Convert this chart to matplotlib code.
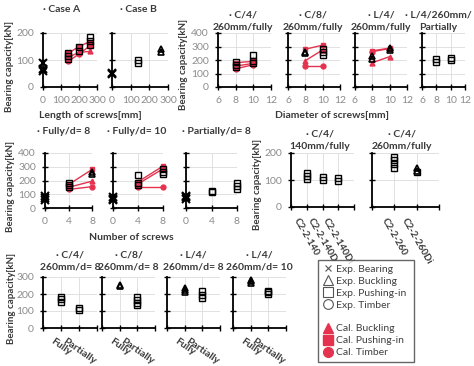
import matplotlib
matplotlib.use('Agg')
import matplotlib.pyplot as plt
from matplotlib.lines import Line2D

plt.rcParams['font.family'] = ['Liberation Sans Narrow', 'Lato', 'DejaVu Sans']

W, H = 474, 366
RED = '#e5334f'
GRAY = '#8c8c8c'
DARK = '#3a3a3a'

# ---- row 1: length of screws ----
caseA_bearing_x = [0, 0, 0]
caseA_bearing_y = [60, 68, 90]
caseA_timber_x = [0]
caseA_timber_y = [75]
caseA_push_x = [140, 140, 140, 200, 200, 260, 260, 260]
caseA_push_y = [105, 115, 125, 135, 148, 155, 170, 185]
caseA_cal_x = [140, 200, 260]
caseA_cal_buck = [110, 128, 132]
caseA_cal_push = [125, 150, 168]
caseA_cal_timber = [95, 122, 152]

caseB_bearing_x = [0, 0]
caseB_bearing_y = [48, 52]
caseB_push_x = [140, 140]
caseB_push_y = [90, 100]
caseB_buck_x = [260, 260]
caseB_buck_y = [130, 140]

# ---- row 1: diameter of screws ----
dia_cal_x = [8, 10]
c4_push_x = [8, 8, 8, 10, 10, 10]
c4_push_y = [145, 165, 185, 175, 190, 240]
c4_cal_buck = [155, 175]
c4_cal_push = [180, 190]
c4_cal_timber = [135, 165]

c8_buck_x = [8, 8]
c8_buck_y = [250, 260]
c8_push_x = [10, 10, 10]
c8_push_y = [240, 260, 280]
c8_cal_buck = [195, 275]
c8_cal_push = [280, 310]
c8_cal_timber = [153, 153]

l4_buck_x = [8, 8, 10, 10]
l4_buck_y = [210, 230, 275, 290]
l4_cal_buck = [180, 225]
l4_cal_push = [268, 288]
l4_cal_timber = [262, 285]

l4p_push_x = [8, 8, 10, 10]
l4p_push_y = [185, 210, 200, 215]

# ---- row 2: number of screws ----
num_cal_x = [4, 8]
f8_bearing_x = [0, 0, 0]
f8_bearing_y = [60, 72, 85]
f8_push_x = [4, 4, 4]
f8_push_y = [150, 165, 180]
f8_buck_x = [8, 8]
f8_buck_y = [248, 260]
f8_cal_buck = [150, 195]
f8_cal_push = [170, 280]
f8_cal_timber = [135, 155]

f10_bearing_x = [0, 0, 0]
f10_bearing_y = [55, 68, 80]
f10_push_x = [4, 4, 4, 8, 8, 8]
f10_push_y = [170, 185, 240, 245, 262, 280]
f10_cal_buck = [175, 285]
f10_cal_push = [190, 305]
f10_cal_timber = [155, 155]

p8_bearing_x = [0, 0, 0]
p8_bearing_y = [65, 78, 90]
p8_push_x = [4, 4, 8, 8, 8]
p8_push_y = [115, 125, 140, 160, 180]

# ---- row 2: specimens ----
c140_labels = ['C2-2-140', 'C2-2-140D', 'C2-2-140Di']
c140_push_x = [1, 1, 1, 2, 2, 3, 3]
c140_push_y = [105, 115, 125, 100, 112, 95, 107]

c260_labels = ['C2-2-260', 'C2-2-260Di']
c260_push_x = [1, 1, 1, 1, 2]
c260_push_y = [145, 160, 175, 187, 130]
c260_buck_x = [2, 2]
c260_buck_y = [135, 145]

# ---- row 3: fully vs partially ----
fp_labels = ['Fully', 'Partially']
r3a_push_x = [1, 1, 1, 2, 2]
r3a_push_y = [155, 170, 185, 105, 115]
r3b_buck_x = [1, 1]
r3b_buck_y = [245, 255]
r3b_push_x = [2, 2, 2, 2]
r3b_push_y = [135, 150, 165, 180]
r3c_buck_x = [1, 1, 1]
r3c_buck_y = [210, 225, 235]
r3c_push_x = [2, 2, 2]
r3c_push_y = [175, 195, 215]
r3d_buck_x = [1, 1, 1]
r3d_buck_y = [265, 275, 285]
r3d_push_x = [2, 2, 2]
r3d_push_y = [200, 210, 220]


fig = plt.figure(figsize=(W / 100, H / 100), dpi=100)


def px(l, t, r, b):
    return [l / W, 1 - b / H, (r - l) / W, (b - t) / H]


def ftext(x, y, s, **kw):
    fig.text(x / W, 1 - y / H, s, **kw)


def panel(l, t, r, b, xlim, xticks, ylim, yticks, xlabels=True, ylabels=False):
    ax = fig.add_axes(px(l, t, r, b))
    ax.set_xlim(xlim)
    ax.set_ylim(ylim)
    ax.set_xticks(xticks)
    ax.set_yticks(yticks)
    for s in ['top', 'right']:
        ax.spines[s].set_visible(False)
    for s in ['left', 'bottom']:
        ax.spines[s].set_linewidth(1.3)
        ax.spines[s].set_color('black')
    ax.grid(True, color='#dcdcdc', linewidth=0.6)
    ax.set_axisbelow(True)
    ax.tick_params(direction='inout', length=5, width=1, color='black',
                   labelcolor=GRAY, labelsize=7.5, pad=4)
    if not xlabels:
        ax.set_xticklabels([])
    if not ylabels:
        ax.set_yticklabels([])
    return ax


def exp(ax, x, y, kind):
    if kind == 'bearing':
        ax.plot(x, y, 'x', color='black', ms=5.5, mew=1.5, ls='none', clip_on=False, zorder=5)
    elif kind == 'buck':
        ax.plot(x, y, '^', mfc='none', mec='black', ms=5, mew=1.2, ls='none', clip_on=False, zorder=5)
    elif kind == 'push':
        ax.plot(x, y, 's', mfc='none', mec='black', ms=4.5, mew=1.0, ls='none', clip_on=False, zorder=5)
    elif kind == 'timber':
        ax.plot(x, y, 'o', mfc='none', mec='black', ms=4.5, mew=1.0, ls='none', clip_on=False, zorder=5)


def cal(ax, x, buck, push, timber):
    ax.plot(x, buck, '-^', color=RED, ms=3.5, lw=1, clip_on=False, zorder=4)
    ax.plot(x, push, '-s', color=RED, ms=3.5, lw=1, clip_on=False, zorder=4)
    ax.plot(x, timber, '-o', color=RED, ms=3.5, lw=1, clip_on=False, zorder=4)


def ylab(x, y):
    ftext(x, y, 'Bearing capacity[kN]', rotation=90, ha='center', va='center',
          fontsize=7, fontweight='bold', color=DARK)


def title(x, y, s, ha='center'):
    ftext(x, y, s, ha=ha, va='center', fontsize=7.5, fontweight='bold', color=DARK,
          linespacing=1.5, multialignment='center')


# ===== row 1 =====
ax = panel(43, 33, 97, 87, (0, 300), [0, 100, 200, 300], (0, 200), [0, 100, 200], ylabels=True)
cal(ax, caseA_cal_x, caseA_cal_buck, caseA_cal_push, caseA_cal_timber)
exp(ax, caseA_push_x, caseA_push_y, 'push')
exp(ax, caseA_timber_x, caseA_timber_y, 'timber')
exp(ax, caseA_bearing_x, caseA_bearing_y, 'bearing')
title(62, 10, '· Case A')

ax = panel(112, 33, 168, 87, (0, 300), [0, 100, 200, 300], (0, 200), [0, 100, 200])
exp(ax, caseB_push_x, caseB_push_y, 'push')
exp(ax, caseB_buck_x, caseB_buck_y, 'buck')
exp(ax, caseB_bearing_x, caseB_bearing_y, 'bearing')
title(138, 10, '· Case B')

ax = panel(218, 33, 271, 87, (6, 12), [6, 8, 10, 12], (0, 400), [0, 100, 200, 300, 400], ylabels=True)
cal(ax, dia_cal_x, c4_cal_buck, c4_cal_push, c4_cal_timber)
exp(ax, c4_push_x, c4_push_y, 'push')
title(243, 21, '· C/4/\n260mm/fully')

ax = panel(288, 33, 340, 87, (6, 12), [6, 8, 10, 12], (0, 400), [0, 100, 200, 300, 400])
cal(ax, dia_cal_x, c8_cal_buck, c8_cal_push, c8_cal_timber)
exp(ax, c8_push_x, c8_push_y, 'push')
exp(ax, c8_buck_x, c8_buck_y, 'buck')
title(313, 21, '· C/8/\n260mm/fully')

ax = panel(355, 33, 407, 87, (6, 12), [6, 8, 10, 12], (0, 400), [0, 100, 200, 300, 400])
cal(ax, dia_cal_x, l4_cal_buck, l4_cal_push, l4_cal_timber)
exp(ax, l4_buck_x, l4_buck_y, 'buck')
title(381, 21, '· L/4/\n260mm/fully')

ax = panel(422, 33, 465, 87, (6, 12), [6, 8, 10, 12], (0, 400), [0, 100, 200, 300, 400])
exp(ax, l4p_push_x, l4p_push_y, 'push')
title(472, 21, '· L/4/260mm/\nPartially', ha='right')

ylab(10, 66)
ylab(184, 64)
ftext(90, 116, 'Length of screws[mm]', ha='center', va='center', fontsize=7.5,
      fontweight='bold', color=DARK)
ftext(332, 116, 'Diameter of screws[mm]', ha='center', va='center', fontsize=7.5,
      fontweight='bold', color=DARK)

# ===== row 2 =====
ax = panel(45, 153, 92, 208, (0, 8), [0, 4, 8], (0, 400), [0, 100, 200, 300, 400], ylabels=True)
cal(ax, num_cal_x, f8_cal_buck, f8_cal_push, f8_cal_timber)
exp(ax, f8_push_x, f8_push_y, 'push')
exp(ax, f8_buck_x, f8_buck_y, 'buck')
exp(ax, f8_bearing_x, f8_bearing_y, 'bearing')
title(64, 132, '· Fully/d= 8')

ax = panel(113, 153, 163, 208, (0, 8), [0, 4, 8], (0, 400), [0, 100, 200, 300, 400])
cal(ax, num_cal_x, f10_cal_buck, f10_cal_push, f10_cal_timber)
exp(ax, f10_push_x, f10_push_y, 'push')
exp(ax, f10_bearing_x, f10_bearing_y, 'bearing')
title(137, 132, '· Fully/d= 10')

ax = panel(186, 153, 237, 208, (0, 8), [0, 4, 8], (0, 400), [0, 100, 200, 300, 400])
exp(ax, p8_push_x, p8_push_y, 'push')
exp(ax, p8_bearing_x, p8_bearing_y, 'bearing')
title(216, 132, '· Partially/d= 8')

ax = panel(291, 153, 354, 207, (0, 4), [0, 1, 2, 3, 4], (0, 200), [0, 100, 200], ylabels=True)
ax.set_xticklabels([''] + c140_labels + [''], rotation=-60, ha='center', va='top',
                   color=DARK, fontweight='bold', fontsize=7)
exp(ax, c140_push_x, c140_push_y, 'push')
title(320, 140, '· C/4/\n140mm/fully')

ax = panel(372, 153, 439, 207, (0, 3), [0, 1, 2, 3], (0, 200), [0, 100, 200])
ax.set_xticklabels([''] + c260_labels + [''], rotation=-60, ha='center', va='top',
                   color=DARK, fontweight='bold', fontsize=7)
exp(ax, c260_push_x, c260_push_y, 'push')
exp(ax, c260_buck_x, c260_buck_y, 'buck')
title(402, 140, '· C/4/\n260mm/fully')

ylab(11, 187)
ylab(258, 185)
ftext(131, 238, 'Number of screws', ha='center', va='center', fontsize=7.5,
      fontweight='bold', color=DARK)

# ===== row 3 =====
r3 = [(43, 97, '· C/4/\n260mm/d= 8', [(r3a_push_x, r3a_push_y, 'push')]),
      (102, 155, '· C/8/\n260mm/d= 8', [(r3b_buck_x, r3b_buck_y, 'buck'),
                                        (r3b_push_x, r3b_push_y, 'push')]),
      (167, 220, '· L/4/\n260mm/d= 8', [(r3c_buck_x, r3c_buck_y, 'buck'),
                                        (r3c_push_x, r3c_push_y, 'push')]),
      (233, 286, '· L/4/\n260mm/d= 10', [(r3d_buck_x, r3d_buck_y, 'buck'),
                                         (r3d_push_x, r3d_push_y, 'push')])]
for i, (l, r, ttl, series) in enumerate(r3):
    ax = panel(l, 277, r, 328, (0, 3), [0, 1, 2, 3], (0, 300), [0, 100, 200, 300],
               ylabels=(i == 0))
    ax.set_xticklabels([''] + fp_labels + [''], rotation=-35, ha='center', va='top',
                       color=DARK, fontweight='bold', fontsize=7.5)
    for sx, sy, kind in series:
        exp(ax, sx, sy, kind)
    title((l + r) / 2, 261, ttl)

ylab(12, 298)

# ===== legend =====
lax = fig.add_axes(px(313, 259, 419, 363))
handles = [
    Line2D([], [], marker='x', color='#555555', ms=4, mew=0.8, ls='none'),
    Line2D([], [], marker='^', mfc='none', mec='#555555', ms=7, mew=0.8, ls='none'),
    Line2D([], [], marker='s', mfc='none', mec='#555555', ms=6.5, mew=0.8, ls='none'),
    Line2D([], [], marker='o', mfc='none', mec='#555555', ms=7, mew=0.8, ls='none'),
    Line2D([], [], ls='none'),
    Line2D([], [], marker='^', color=RED, ms=7, ls='none'),
    Line2D([], [], marker='s', color=RED, ms=6.5, ls='none'),
    Line2D([], [], marker='o', color=RED, ms=7, ls='none'),
]
labels = ['Exp. Bearing', 'Exp. Buckling', 'Exp. Pushing-in', 'Exp. Timber', ' ',
          'Cal. Buckling', 'Cal. Pushing-in', 'Cal. Timber']
lax.axis('off')
leg = lax.legend(handles, labels, loc='center', fontsize=7.5, frameon=True,
                 handlelength=0.8, handletextpad=0.4, labelspacing=0.25,
                 borderpad=0.5, fancybox=False, mode='expand', bbox_to_anchor=(0, 0, 1, 1))
leg.get_frame().set_edgecolor('#404040')
leg.get_frame().set_linewidth(1)
for t in leg.get_texts():
    t.set_color('#404040')

fig.savefig('out.png', dpi=100)
